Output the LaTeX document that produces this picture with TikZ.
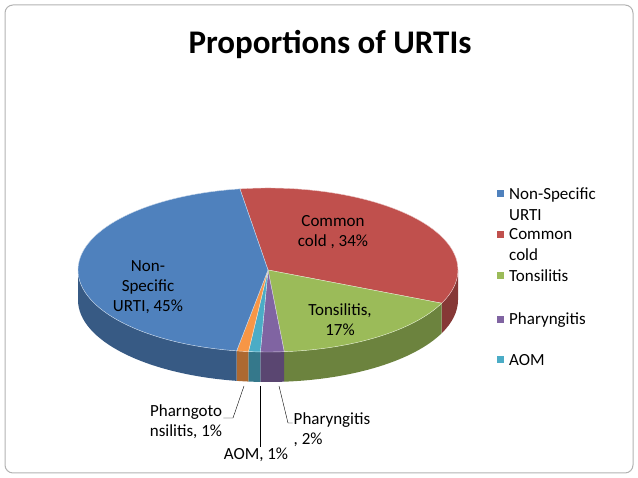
\documentclass[tikz,border=0pt]{standalone}
\usepackage{fontspec}
\setmainfont{Carlito}
\definecolor{urti}{RGB}{79,129,189}
\definecolor{cold}{RGB}{192,80,77}
\definecolor{tonsil}{RGB}{155,187,89}
\definecolor{pharyn}{RGB}{128,100,162}
\definecolor{aom}{RGB}{75,172,198}
\definecolor{pharton}{RGB}{247,150,70}
\tikzset{lbl/.style={font=\fontsize{17}{20}\selectfont, align=center, inner sep=1pt},
  legtext/.style={font=\fontsize{17}{21}\selectfont, anchor=west, align=left, inner sep=0pt},
  legbox/.style={minimum size=7pt, inner sep=0pt}}
% top face of a slice: #1 colour, #2 start, #3 end
\newcommand{\slicetop}[3]{%
  \fill[#1, draw=white!70!#1, line width=0.4pt] (268,208) -- ($(268,208)+(#2:190 and 82)$)
    arc[start angle=#2, end angle=#3, x radius=190, y radius=82] -- cycle;}
% front wall of a slice
\newcommand{\sliceside}[3]{%
  \fill[#1!70!black] ($(268,208)+(#2:190 and 82)$)
    arc[start angle=#2, end angle=#3, x radius=190, y radius=82] -- ++(0,-30)
    arc[start angle=#3, end angle=#2, x radius=190, y radius=82] -- cycle;}
\usetikzlibrary{calc}
\begin{document}
\begin{tikzpicture}[x=1pt,y=1pt]
  \useasboundingbox (0,0) rectangle (638,478);
  \draw[gray!60, rounded corners=8pt, line width=1pt] (5,5) rectangle (633,473);
  \node[font=\bfseries\fontsize{33}{36}\selectfont] (title) at (330,433) {Proportions of URTIs};

  %% walls
  \sliceside{cold}{-23.9}{0}
  \sliceside{tonsil}{-85.1}{-23.9}
  \sliceside{pharyn}{-92.3}{-85.1}
  \sliceside{aom}{-95.9}{-92.3}
  \sliceside{pharton}{-99.5}{-95.9}
  \sliceside{urti}{-180}{-99.5}
  %% top faces
  \slicetop{cold}{98.5}{-23.9}
  \slicetop{tonsil}{-23.9}{-85.1}
  \slicetop{pharyn}{-85.1}{-92.3}
  \slicetop{aom}{-92.3}{-95.9}
  \slicetop{pharton}{-95.9}{-99.5}
  \slicetop{urti}{-99.5}{-261.5}

  %% slice labels
  \node[lbl] (lcold) at (333,246) {Common\\cold , 34\%};
  \node[lbl] (lurti) at (148,191) {Non-\\Specific\\URTI, 45\%};
  \node[lbl] (lton) at (340,158) {Tonsilitis,\\17\%};
  \node[lbl, align=right] (lpt) at (186,56) {Pharngoto\\nsilitis, 1\%};
  \node[lbl] (laom) at (256,23) {AOM, 1\%};
  \node[lbl, align=left] (lph) at (332,48) {Pharyngitis\\, 2\%};
  \coordinate (cpt) at (244,92);
  \coordinate (caom) at (260,92);
  \coordinate (cph) at (279,92);
  \draw (cpt) -- (233,60) -- (lpt.east |- 0,60);
  \draw (caom) -- (laom.north -| caom);
  \draw (cph) -- (288,55) -- (lph.west |- 0,55);

  %% legend
  \foreach \c/\y/\t [count=\i] in {urti/284/{Non-Specific\\URTI}, cold/243/{Common\\cold},
      tonsil/202/Tonsilitis, pharyn/158/Pharyngitis, aom/118/AOM} {
    \node[legbox, fill=\c] (box\i) at (500,\y) {};
    \node[legtext] (leg\i) at (509,\y-\ifnum\i<3 10\else 0\fi) {\t};
  }
\end{tikzpicture}
\end{document}
